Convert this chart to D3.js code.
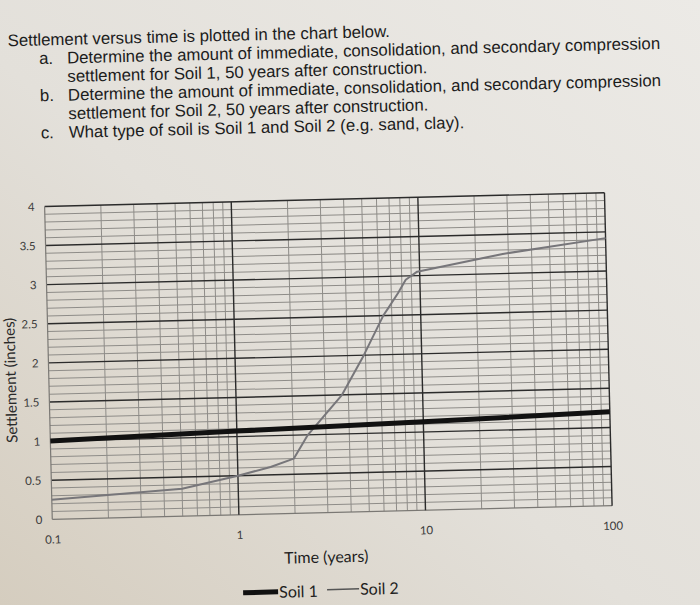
<!DOCTYPE html>
<html>
<head>
<meta charset="utf-8">
<script src="https://cdn.jsdelivr.net/npm/d3@7"></script>
<style>
  html, body { margin: 0; padding: 0; background: #e4e1db; }
  svg { display: block; }
</style>
</head>
<body>
<div id="chart"></div>
<script>
// question text above the chart
const questionLines = [
  { label: "", text: "Settlement versus time is plotted in the chart below." },
  { label: "a.", text: "Determine the amount of immediate, consolidation, and secondary compression" },
  { label: "", text: "settlement for Soil 1, 50 years after construction." },
  { label: "b.", text: "Determine the amount of immediate, consolidation, and secondary compression" },
  { label: "", text: "settlement for Soil 2, 50 years after construction." },
  { label: "c.", text: "What type of soil is Soil 1 and Soil 2 (e.g. sand, clay)." }
];

// soil 1 (thick black line)
const soil1Years = [0.1, 1, 10, 100];
const soil1Settlement = [1.0, 1.07, 1.13, 1.2];

// soil 2 (thin grey line)
const soil2Years = [0.1, 0.5, 1, 1.5, 2, 2.4, 3.7, 4.9, 6.3, 6.7, 7.6, 8.4, 9.7, 28, 100];
const soil2Settlement = [0.25, 0.35, 0.5, 0.6, 0.7, 1.0, 1.5, 2.0, 2.5, 2.59, 2.78, 2.95, 3.05, 3.25, 3.42];

const xTicks = [0.1, 1, 10, 100];
const xTickLabels = ["0.1", "1", "10", "100"];
const yTicks = [0, 0.5, 1, 1.5, 2, 2.5, 3, 3.5, 4];
const yTickLabels = ["0", "0.5", "1", "1.5", "2", "2.5", "3", "3.5", "4"];

const width = 700;
const height = 605;
const plot = { left: 47, right: 607, top: 199, bottom: 512 };

const svg = d3.select("#chart")
  .append("svg")
  .attr("width", width)
  .attr("height", height);

// paper-ish background
const grad = svg.append("defs").append("linearGradient")
  .attr("id", "paper")
  .attr("x1", "100%").attr("y1", "0%")
  .attr("x2", "0%").attr("y2", "100%");
grad.append("stop").attr("offset", "0%").attr("stop-color", "#eceae6");
grad.append("stop").attr("offset", "55%").attr("stop-color", "#e3e0da");
grad.append("stop").attr("offset", "100%").attr("stop-color", "#d5cdbf");

svg.append("rect")
  .attr("width", width)
  .attr("height", height)
  .attr("fill", "url(#paper)");

// the photo is a little tilted
const page = svg.append("g")
  .attr("transform", "rotate(-1.4, 350, 300)");

// question text
const q = page.append("g")
  .attr("font-family", "'Liberation Sans', Arial, sans-serif")
  .attr("font-size", 16.8)
  .attr("fill", "#1c1c1c");

const qTop = 38;
const qStep = 18.6;
questionLines.forEach(function(d, i) {
  const y = qTop + i * qStep;
  if (i === 0) {
    q.append("text").attr("x", 14).attr("y", y).text(d.text);
    return;
  }
  if (d.label) {
    q.append("text").attr("x", 45).attr("y", y).text(d.label);
  }
  q.append("text").attr("x", 73).attr("y", y).text(d.text);
});

// scales
const xScale = d3.scaleLog()
  .domain([0.1, 100])
  .range([plot.left, plot.right]);

const yScale = d3.scaleLinear()
  .domain([0, 4])
  .range([plot.bottom, plot.top]);

const chart = page.append("g");

// minor grid
const yMinor = d3.range(0, 41).map(d => d / 10).filter(d => Math.round(d * 10) % 5 !== 0);
const xMinor = [];
[0.1, 1, 10].forEach(function(dec) {
  for (let k = 2; k <= 9; k++) xMinor.push(dec * k);
});

chart.append("g")
  .selectAll("line")
  .data(yMinor)
  .enter()
  .append("line")
  .attr("x1", plot.left)
  .attr("x2", plot.right)
  .attr("y1", d => yScale(d))
  .attr("y2", d => yScale(d))
  .attr("stroke", "#8e8c88")
  .attr("stroke-width", 1);

chart.append("g")
  .selectAll("line")
  .data(xMinor)
  .enter()
  .append("line")
  .attr("x1", d => xScale(d))
  .attr("x2", d => xScale(d))
  .attr("y1", plot.top)
  .attr("y2", plot.bottom)
  .attr("stroke", "#8e8c88")
  .attr("stroke-width", 1);

// major grid
chart.append("g")
  .selectAll("line")
  .data(yTicks)
  .enter()
  .append("line")
  .attr("x1", plot.left)
  .attr("x2", plot.right)
  .attr("y1", d => yScale(d))
  .attr("y2", d => yScale(d))
  .attr("stroke", d => d === 0 ? "#7a7874" : "#2b2b2b")
  .attr("stroke-width", d => d === 0 ? 1.2 : 1.4);

chart.append("g")
  .selectAll("line")
  .data(xTicks)
  .enter()
  .append("line")
  .attr("x1", d => xScale(d))
  .attr("x2", d => xScale(d))
  .attr("y1", plot.top)
  .attr("y2", plot.bottom)
  .attr("stroke", d => d === 0.1 ? "#7a7874" : "#2b2b2b")
  .attr("stroke-width", d => d === 0.1 ? 1.2 : 1.4);

// axes (labels only)
const yAxis = d3.axisLeft(yScale)
  .tickValues(yTicks)
  .tickFormat((d, i) => yTickLabels[i])
  .tickSize(0)
  .tickPadding(10);

const xAxis = d3.axisBottom(xScale)
  .tickValues(xTicks)
  .tickFormat((d, i) => xTickLabels[i])
  .tickSize(0)
  .tickPadding(16);

const yAxisGroup = chart.append("g")
  .attr("transform", `translate(${plot.left}, 0)`)
  .call(yAxis);

const xAxisGroup = chart.append("g")
  .attr("transform", `translate(0, ${plot.bottom})`)
  .call(xAxis);

[yAxisGroup, xAxisGroup].forEach(function(g) {
  g.select(".domain").remove();
  g.selectAll("text")
    .attr("font-family", "Lato, 'Open Sans', sans-serif")
    .attr("font-size", 11.5)
    .attr("fill", "#3a3a3a");
});

// lines
const line = d3.line()
  .x(d => xScale(d[0]))
  .y(d => yScale(d[1]));

const soil2Data = soil2Years.map((t, i) => [t, soil2Settlement[i]]);
const soil1Data = soil1Years.map((t, i) => [t, soil1Settlement[i]]);

chart.append("path")
  .datum(soil2Data)
  .attr("fill", "none")
  .attr("stroke", "#77767a")
  .attr("stroke-width", 2)
  .attr("stroke-linejoin", "round")
  .attr("d", line);

chart.append("path")
  .datum(soil1Data)
  .attr("fill", "none")
  .attr("stroke", "#111")
  .attr("stroke-width", 5)
  .attr("d", line);

// axis titles
chart.append("text")
  .attr("transform", "translate(14, 372) rotate(-90)")
  .attr("text-anchor", "middle")
  .attr("font-family", "Lato, 'Open Sans', sans-serif")
  .attr("font-size", 15)
  .attr("fill", "#2a2a2a")
  .text("Settlement (inches)");

chart.append("text")
  .attr("x", 320)
  .attr("y", 562)
  .attr("text-anchor", "middle")
  .attr("font-family", "Lato, 'Open Sans', sans-serif")
  .attr("font-size", 16)
  .attr("fill", "#1e1e1e")
  .text("Time (years)");

// legend
const legend = chart.append("g")
  .attr("font-family", "Lato, 'Open Sans', sans-serif")
  .attr("font-size", 16)
  .attr("fill", "#1e1e1e");

legend.append("line")
  .attr("x1", 236).attr("x2", 271)
  .attr("y1", 590).attr("y2", 590)
  .attr("stroke", "#111")
  .attr("stroke-width", 5);
legend.append("text").attr("x", 272).attr("y", 596).text("Soil 1");

legend.append("line")
  .attr("x1", 320).attr("x2", 352)
  .attr("y1", 589).attr("y2", 589)
  .attr("stroke", "#555")
  .attr("stroke-width", 1.5);
legend.append("text").attr("x", 353).attr("y", 595).text("Soil 2");
</script>
</body>
</html>
